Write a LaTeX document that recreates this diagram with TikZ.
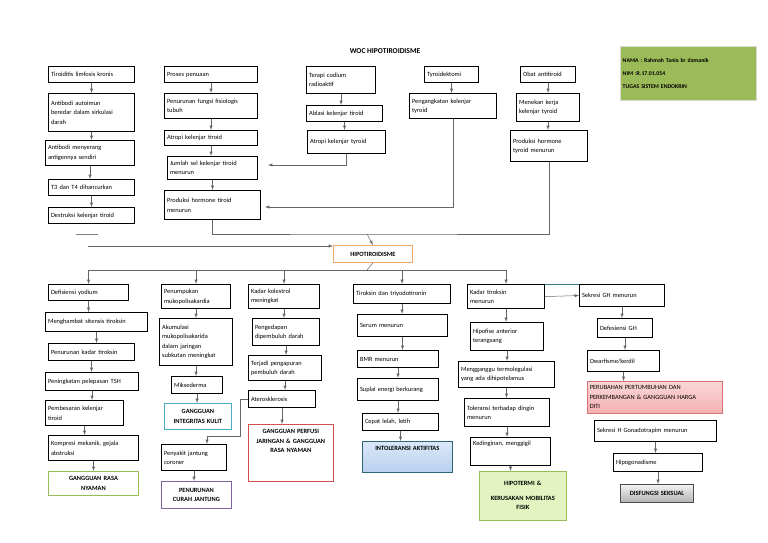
\documentclass[tikz,border=0pt]{standalone}
\usepackage{fontspec}
\setmainfont{Carlito}
\usetikzlibrary{positioning}
\definecolor{infogreen}{HTML}{9BBB59}
\definecolor{hipoorange}{HTML}{F0A868}
\definecolor{kulitcyan}{HTML}{4BACC6}
\definecolor{perfred}{HTML}{D05050}
\definecolor{curahpurple}{HTML}{8064A2}
\definecolor{nyamangreen}{HTML}{9BBB59}
\definecolor{intolblue}{HTML}{B8D0F0}
\definecolor{hipogreen}{HTML}{E4F4C0}
\definecolor{tumbuhred}{HTML}{F4B0B0}
\newcommand{\boxfont}{\fontsize{6.4}{9.5}\selectfont\hyphenpenalty 10000\relax}
\tikzset{
  bx/.style={draw, line width=1.1pt, anchor=north west, align=left, inner sep=2.5pt,
    font=\boxfont},
  dx/.style={bx, line width=0.9pt, align=center, font=\boxfont\bfseries},
  arr/.style={draw=black!60, line width=0.5pt, -latex},
  ln/.style={draw=black!60, line width=0.5pt}
}
\begin{document}
\begin{tikzpicture}[x=1pt,y=-1pt]
  \useasboundingbox (0,0) rectangle (768,543);
  \node[font=\fontsize{7.5}{8}\selectfont\bfseries] (title) at (385,51) {WOC HIPOTIROIDISME};
  \node[bx, line width=0.4pt, draw=black!15, fill=infogreen, text width=131pt, minimum height=54pt,
        font=\fontsize{5.8}{13}\selectfont\bfseries, anchor=north west] (info) at (620,46)
        {NAMA : Rahmah Tania br damanik\\NIM :R.17.01.054\\TUGAS SISTEM ENDOKRIN};
  % etiologi
  \node[bx, text width=81pt, minimum height=16pt] (t1) at (48,66) {Tiroiditis limfosis kronis};
  \node[bx, text width=81pt, minimum height=38pt] (t2) at (48,93) {Antibodi autoimun\\beredar dalam sirkulasi\\darah};
  \node[bx, text width=84pt, minimum height=25pt] (t3) at (45,140) {Antibodi menyerang\\antigennya sendiri};
  \node[bx, text width=81pt, minimum height=16pt] (t4) at (48,179) {T3 dan T4 dihancurkan};
  \node[bx, text width=81pt, minimum height=16pt] (t5) at (48,207) {Destruksi kelenjar tiroid};
  \node[bx, text width=88pt, minimum height=16pt] (p1) at (164,66) {Proses penuaan};
  \node[bx, text width=88pt, minimum height=25pt] (p2) at (164,93) {Penurunan fungsi fisiologis\\tubuh};
  \node[bx, text width=88pt, minimum height=15pt] (p3) at (164,130) {Atropi kelenjar tiroid};
  \node[bx, text width=85pt, minimum height=23pt] (p4) at (167,156) {Jumlah sel kelenjar tiroid\\menurun};
  \node[bx, text width=91pt, minimum height=29pt] (p5) at (164,190) {Produksi hormone tiroid\\menurun};
  \node[bx, text width=64pt, minimum height=27pt] (r1) at (306,66) {Terapi codium\\radioaktif};
  \node[bx, text width=71pt, minimum height=16pt] (r2) at (306,105) {Ablasi kelenjar tiroid};
  \node[bx, text width=73pt, minimum height=23pt] (r3) at (307,130) {Atropi kelenjar tyroid};
  \node[bx, text width=49pt, minimum height=16pt] (y1) at (424,66) {Tyroidektomi};
  \node[bx, text width=82pt, minimum height=25pt] (y2) at (409,93) {Pengangkatan kelenjar\\tyroid};
  \node[bx, text width=50pt, minimum height=16pt] (o1) at (520,66) {Obat antitiroid};
  \node[bx, text width=58pt, minimum height=28pt] (o2) at (516,93) {Menekan kerja\\kelenjar tyroid};
  \node[bx, text width=72pt, minimum height=31pt] (o3) at (510,130) {Produksi hormone\\tyroid menurun};
  \node[dx, draw=hipoorange, text width=74pt, minimum height=17pt] (hipo) at (333,245) {HIPOTIROIDISME};
  \foreach \a/\b in {t1/t2,t2/t3,t3/t4,t4/t5,p1/p2,p2/p3,p3/p4,p4/p5,r1/r2,r2/r3,y1/y2,o1/o2,o2/o3}
    \draw[arr] (\a.south) -- (\a.south |- \b.north);
  \coordinate (k1) at (268,165);
  \coordinate (k2) at (265,207);
  \coordinate (jn) at (367,234);
  \coordinate (ls) at (88,246);
  \draw[arr] (r3.south) |- (k1);
  \draw[arr] (y2.south) |- (k2);
  \draw[ln] (p5.south) |- (jn) -| (o3.south);
  \draw[arr] (jn) -- (hipo.north);
  \draw[arr] (ls) -- (ls -| hipo.west);
  \draw[ln, black!50] (76,234) -- (98,234);
  % akibat
  \node[bx, text width=75pt, minimum height=16pt] (a1) at (48,284) {Defisiensi yodium};
  \node[bx, text width=97pt, minimum height=19pt] (a2) at (45,312) {Menghambat sitensis tiroksin};
  \node[bx, text width=81pt, minimum height=17pt] (a3) at (48,343) {Penurunan kadar tiroksin};
  \node[bx, text width=88pt, minimum height=18pt] (a4) at (45,372) {Peningkatan pelepasan TSH};
  \node[bx, text width=73pt, minimum height=25pt] (a5) at (45,400) {Pembesaran kelenjar\\tiroid};
  \node[bx, text width=85pt, minimum height=25pt] (a6) at (48,435) {Kompresi mekanik, gejala\\abstruksi};
  \node[dx, draw=nyamangreen, text width=85pt, minimum height=24pt] (a7) at (48,471) {GANGGUAN RASA\\NYAMAN};
  \node[bx, text width=64pt, minimum height=24pt] (b1) at (161,284) {Penumpukan\\mukopolisakardia};
  \node[bx, text width=68pt, minimum height=47pt] (b2) at (159,318) {Akumulasi\\mukopolisakarida\\dalam jaringan\\subkutan meningkat};
  \node[bx, text width=46pt, minimum height=17pt] (b3) at (171,376) {Miksederma};
  \node[dx, draw=kulitcyan, text width=62pt, minimum height=26pt] (b4) at (164,403) {GANGGUAN\\INTEGRITAS KULIT};
  \node[bx, text width=60pt, minimum height=26pt] (b5) at (161,444) {Penyakit jantung\\coroner};
  \node[dx, draw=curahpurple, text width=65pt, minimum height=27pt] (b6) at (161,481) {PENURUNAN\\CURAH JANTUNG};
  \node[bx, text width=66pt, minimum height=24pt] (c1) at (248,284) {Kadar kolestrol\\meningkat};
  \node[bx, text width=62pt, minimum height=27pt] (c2) at (252,318) {Pengedapan\\dipembuluh darah};
  \node[bx, text width=68pt, minimum height=25pt] (c3) at (248,355) {Terjadi pengapuran\\pembuluh darah};
  \node[bx, text width=62pt, minimum height=17pt] (c4) at (248,390) {Aterosklerosis};
  \node[dx, draw=perfred, line width=0.6pt, text width=80pt, minimum height=57pt, anchor=north west] (c5) at (248,424)
    {GANGGUAN PERFUSI\\JARINGAN \& GANGGUAN\\RASA NYAMAN\\[14pt]\mbox{}};
  \node[bx, text width=92pt, minimum height=19pt] (d1) at (353,284) {Tiroksin dan triyodotironin};
  \node[bx, text width=85pt, minimum height=22pt] (d2) at (357,314) {Serum menurun};
  \node[bx, text width=76pt, minimum height=17pt] (d3) at (357,350) {BMR menurun};
  \node[bx, text width=76pt, minimum height=22pt] (d4) at (357,378) {Suplai energi berkurang};
  \node[bx, text width=71pt, minimum height=17pt] (d5) at (362,413) {Cepat lelah, letih};
  \node[dx, draw=kulitcyan!60!black, line width=0.6pt, top color=intolblue!50, bottom color=intolblue,
        text width=85pt, minimum height=31pt] (d6) at (362,441) {INTOLERANSI AKTIFITAS\\[8pt]\mbox{}};
  \node[bx, text width=72pt, minimum height=24pt] (e1) at (467,284) {Kadar tiroksin\\menurun};
  \node[bx, text width=68pt, minimum height=28pt] (e2) at (470,322) {Hipofise anterior\\terangsang};
  \node[bx, text width=91pt, minimum height=26pt] (e3) at (458,361) {Mengganggu termolegulasi\\yang ada dihipotelamus};
  \node[bx, text width=80pt, minimum height=28pt] (e4) at (464,398) {Toleransi terhadap dingin\\menurun};
  \node[bx, text width=75pt, minimum height=28pt] (e5) at (470,437) {Kedinginan, menggigil\\[8pt]\mbox{}};
  \node[dx, draw=nyamangreen, line width=0.6pt, fill=hipogreen, text width=82pt, minimum height=49pt] (e6) at (479,471)
    {HIPOTERMI \&\\[5pt]KERUSAKAN MOBILITAS\\FISIK};
  \node[bx, text width=80pt, minimum height=22pt] (f1) at (579,284) {Sekresi GH menurun};
  \node[bx, text width=50pt, minimum height=19pt] (f2) at (597,318) {Defesiensi GH};
  \node[bx, text width=67pt, minimum height=21pt] (f3) at (587,350) {Dwarfisme/kerdil};
  \node[bx, draw=perfred!80, line width=0.6pt, top color=tumbuhred!50, bottom color=tumbuhred,
        text width=130pt, minimum height=32pt] (f4) at (587,381) {PERUBAHAN PERTUMBUHAN DAN\\PERKEMBANGAN \& GANGGUAN HARGA\\DITI};
  \node[bx, text width=117pt, minimum height=21pt] (f5) at (594,420) {Sekresi H Gonadotrapim menurun};
  \node[bx, text width=84pt, minimum height=18pt] (f6) at (613,453) {Hipogonadisme};
  \node[dx, draw=black!70, top color=black!5, bottom color=black!30, text width=68pt, minimum height=18pt] (f7) at (620,484) {DISFUNGSI SEKSUAL};
  \coordinate (bar) at (367,270);
  \draw[ln] (hipo.south) -- (bar);
  \draw[ln] (a1.north |- bar) -- (e1.north |- bar);
  \foreach \n in {a1,b1,c1,d1,e1}
    \draw[arr] (\n.north |- bar) -- (\n.north);
  \foreach \a/\b in {a1/a2,a2/a3,a3/a4,a4/a5,a5/a6,a6/a7,b1/b2,b2/b3,b3/b4,b5/b6,c1/c2,c2/c3,c3/c4,c4/c5,
                     d1/d2,d2/d3,d3/d4,d4/d5,d5/d6,e1/e2,e2/e3,e3/e4,e4/e5,e5/e6,f1/f2,f2/f3,f3/f4,f5/f6,f6/f7}
    \draw[arr] (\a.south) -- (\a.south |- \b.north);
  \draw[arr] (c4.west) -- ++(-8,0) |- (207,436) -- (207,444);
  \draw[arr] (e1.east) -- (f1.west);
  \draw[draw=kulitcyan!70!black, line width=0.5pt] (e1.north east) -- (f1.north west);
\end{tikzpicture}
\end{document}
